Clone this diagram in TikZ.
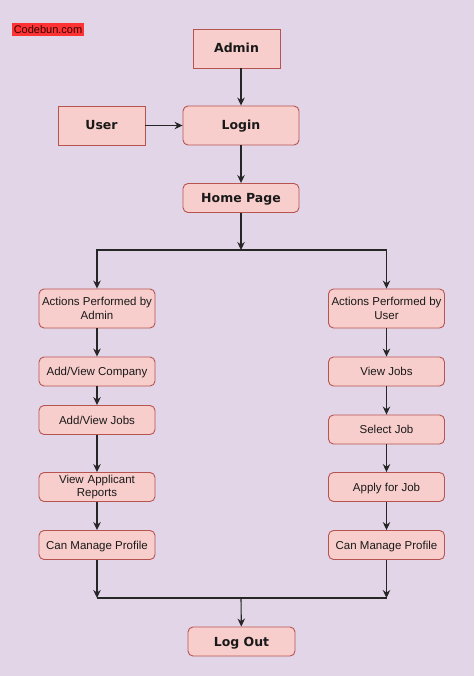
\documentclass[tikz,border=0pt]{standalone}
\usepackage{fontspec}
\setmainfont{Liberation Sans}
\newfontfamily\headfont{DejaVu Sans}
\usepackage{tikz}
\usetikzlibrary{arrows.meta}

\definecolor{bgpurple}{HTML}{E1D5E7}
\definecolor{boxfill}{HTML}{F8CECC}
\definecolor{boxline}{HTML}{B85450}
\definecolor{tagred}{HTML}{FF3333}

\tikzset{
  box/.style={draw=boxline, fill=boxfill, line width=0.9pt, minimum width=116pt,
    minimum height=29pt, inner sep=2pt, align=center, text=black!90,
    font=\fontsize{11.5}{13.5}\selectfont, rounded corners=5pt},
  oneline/.style={text height=10pt, text depth=1.8pt},
  headbox/.style={box, text height=11pt, text depth=2pt,
    font=\headfont\bfseries\fontsize{12.5}{14}\selectfont},
  arr/.style={-{Stealth[length=8pt,width=7.5pt]}, line width=1.1pt, black!85}
}

\begin{document}
\begin{tikzpicture}[x=1pt, y=-1pt]
                % Background
                \fill[bgpurple] (0,0) rectangle (474,676);
                \node[fill=tagred, text=black!80!red, inner sep=0.5pt, minimum width=72pt, minimum height=13pt,
                  font=\fontsize{11}{12}\selectfont] (tag) at (48,29.5) {Codebun.com};

                % Top entries
                \node[headbox, rounded corners=0pt, minimum width=87pt, minimum height=39pt] (admin) at (236.5,48.5) {Admin};
                \node[headbox, rounded corners=0pt, minimum width=87pt, minimum height=39pt] (user) at (101.5,125.5) {User};
                \node[headbox, minimum height=39pt] (login) at (241,125.5) {Login};
                \node[headbox] (home) at (241,198) {Home Page};
                \draw[arr] (login.north |- admin.south) -- (login.north);
                \draw[arr] (user) -- (login);
                \draw[arr] (login) -- (home);

                % Admin branch
                \node[box, minimum height=39pt] (actadmin) at (97,308.5) {Actions Performed by\\Admin};
                \node[box, oneline] (company) at (97,371.5) {Add/View Company};
                \node[box, oneline] (adminjobs) at (97,420) {Add/View Jobs};
                \node[box, text width=110pt] (reports) at (97,487) {View Applicant\\Reports};
                \node[box, oneline] (profadmin) at (97,545) {Can Manage Profile};

                % User branch
                \node[box, minimum height=39pt] (actuser) at (386.5,308.5) {Actions Performed by\\User};
                \node[box, oneline] (viewjobs) at (386.5,371.5) {View Jobs};
                \node[box, oneline] (select) at (386.5,429.5) {Select Job};
                \node[box, oneline] (apply) at (386.5,487) {Apply for Job};
                \node[box, oneline] (profuser) at (386.5,545) {Can Manage Profile};

                % Split from home page
                \coordinate (split) at (241,250);
                \draw[arr] (home) -- (split);
                \draw[arr] (split) -| (actadmin);
                \draw[arr] (split) -| (actuser);

                % Chains
                \draw[arr] (actadmin) -- (company);
                \draw[arr] (company) -- (adminjobs);
                \draw[arr] (adminjobs) -- (reports);
                \draw[arr] (reports) -- (profadmin);
                \draw[arr] (actuser) -- (viewjobs);
                \draw[arr] (viewjobs) -- (select);
                \draw[arr] (select) -- (apply);
                \draw[arr] (apply) -- (profuser);

                % Join to log out
                \coordinate (join) at (241,598);
                \node[headbox, minimum width=107pt] (logout) at (241.5,641.5) {Log Out};
                \draw[arr] (profadmin) -- (profadmin |- join);
                \draw[arr] (profuser) -- (profuser |- join);
                \draw[line width=1.1pt, black!85] (profadmin |- join) -- (profuser |- join);
                \draw[arr] (join) -- (logout);
            \end{tikzpicture}
\end{document}
